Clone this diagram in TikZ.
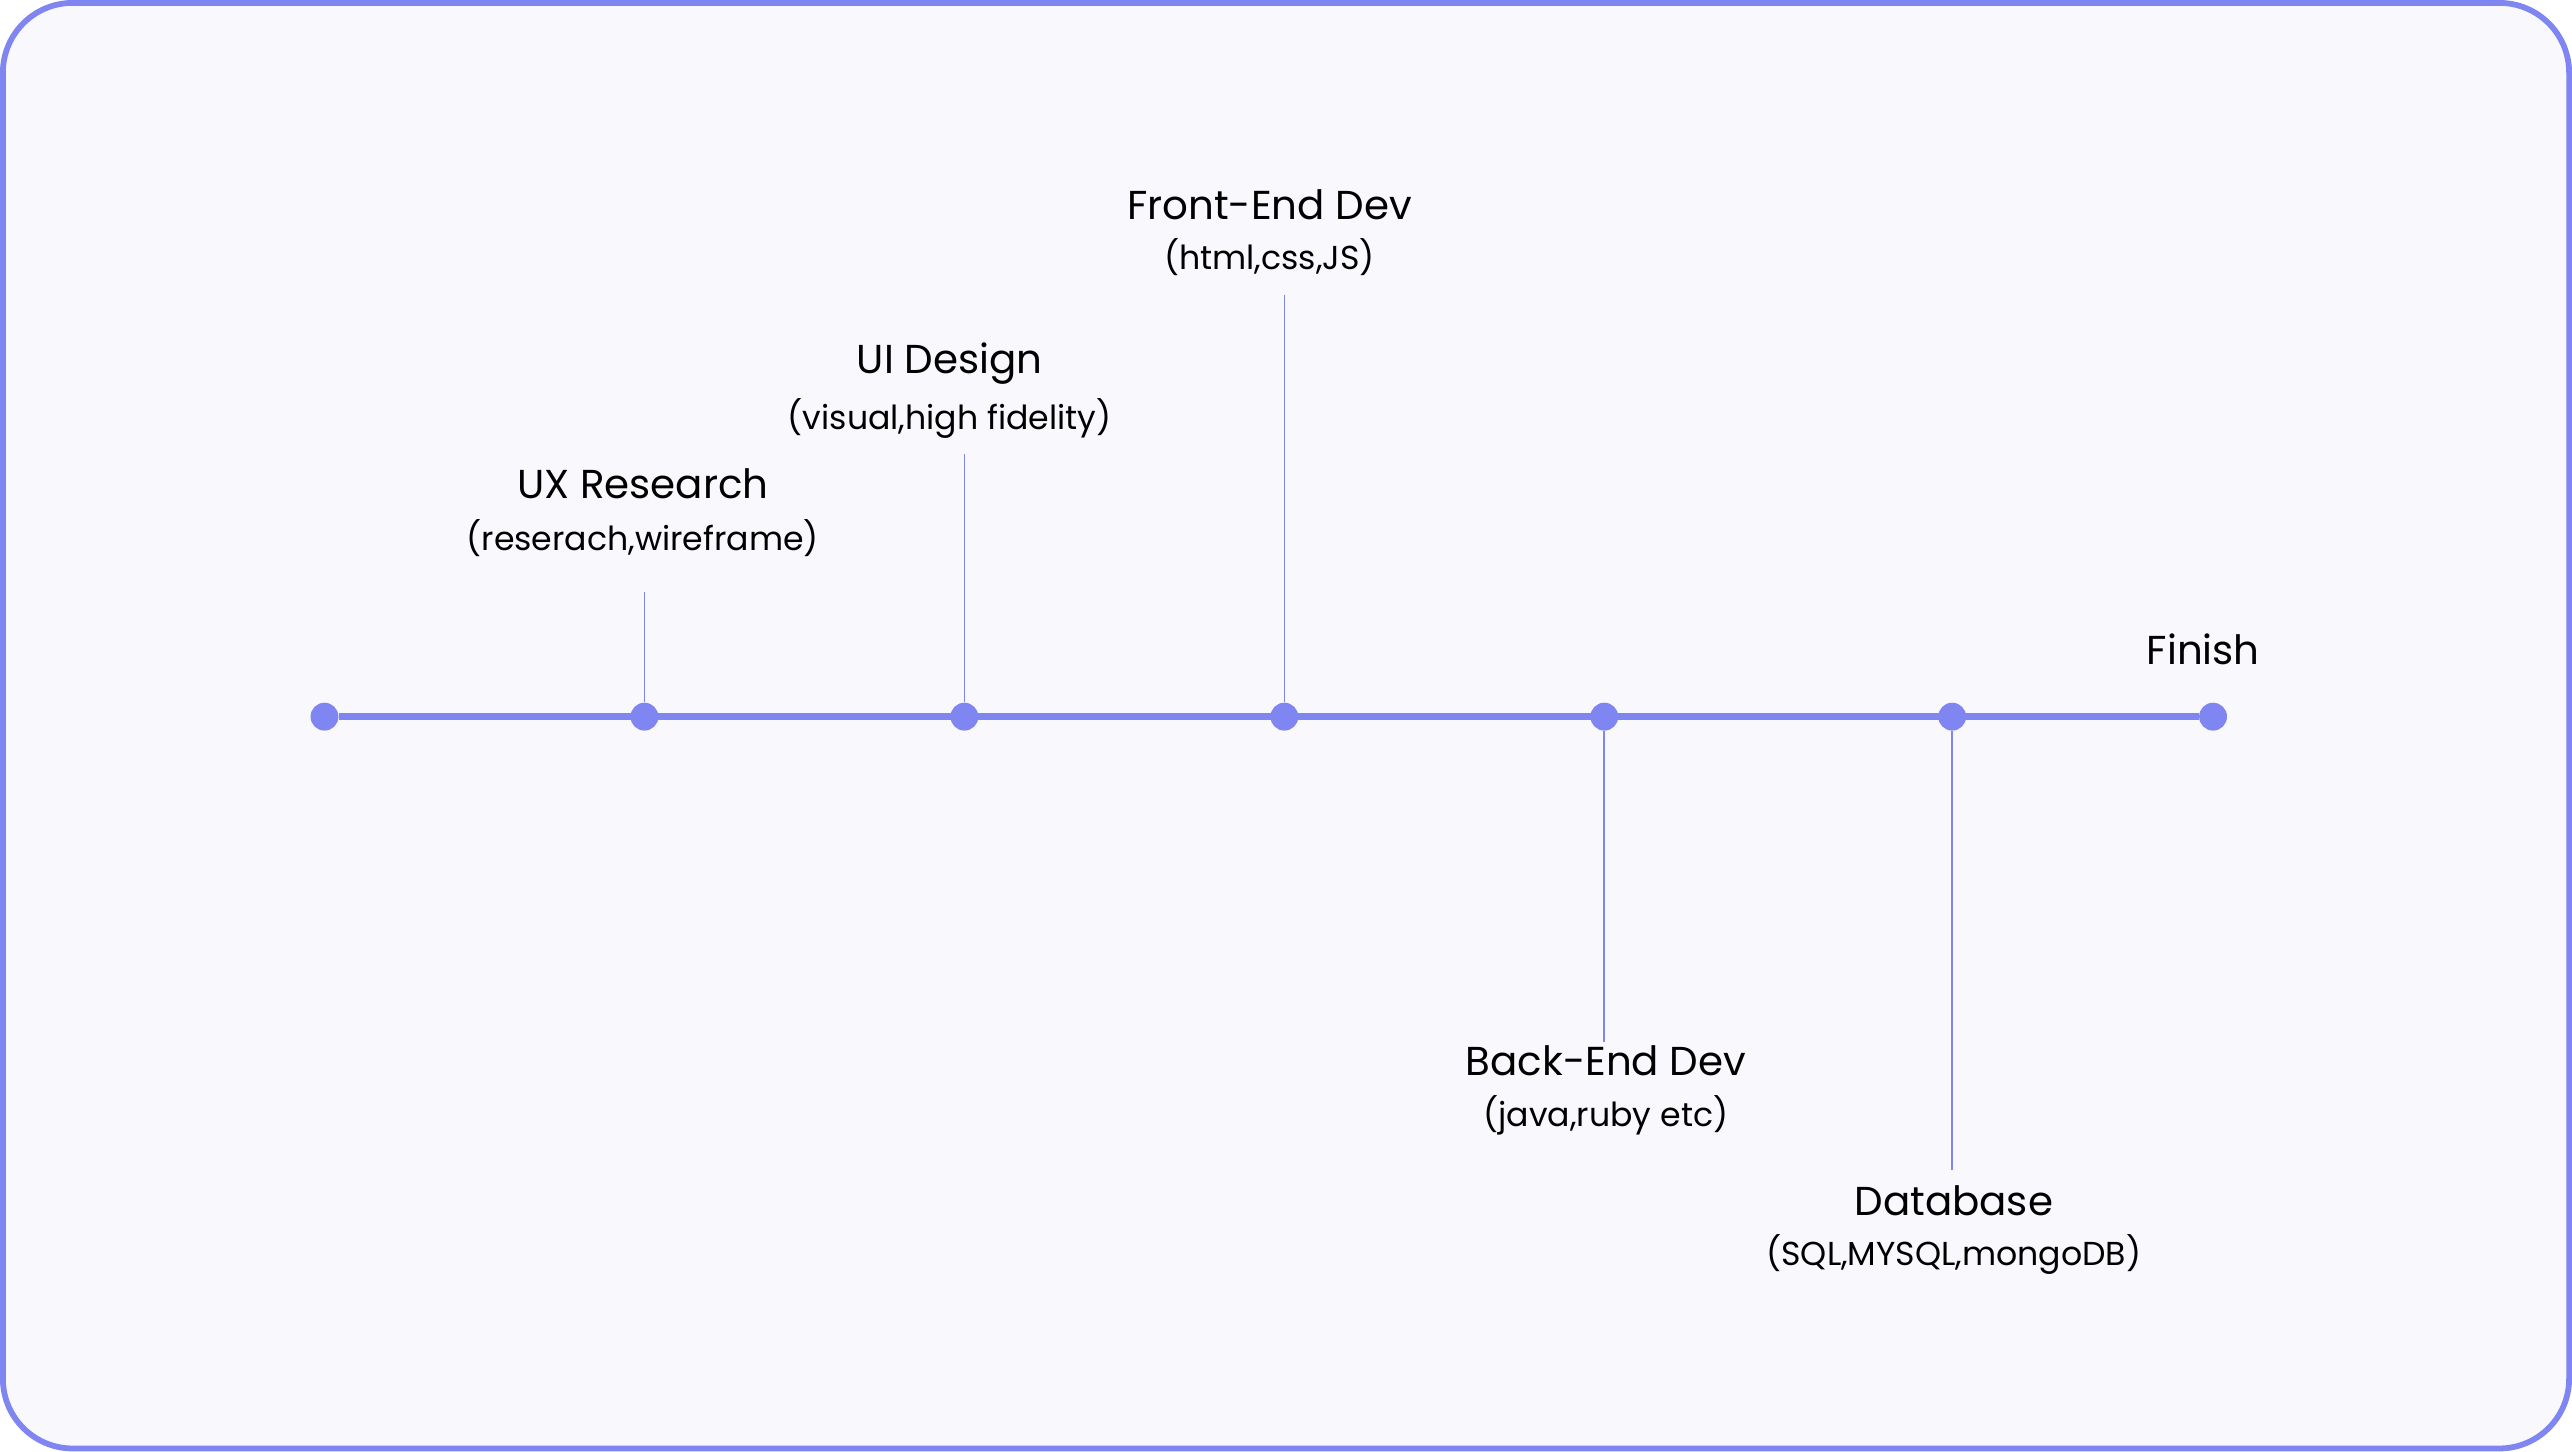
\documentclass[tikz,border=0pt]{standalone}
\usepackage{fontspec}
\setmainfont{Poppins}
\definecolor{lineblue}{HTML}{7F86F2}
\definecolor{bgpale}{HTML}{F8F8FD}
\tikzset{
  dot/.style={circle,fill=lineblue,inner sep=0pt,minimum size=0.34cm},
  title/.style={font=\fontsize{14}{16}\selectfont},
  sub/.style={font=\fontsize{11.5}{13}\selectfont},
  stem/.style={draw=lineblue,line width=0.6pt}
}
\begin{document}
\begin{tikzpicture}[x=0.02cm,y=-0.02cm]
  \draw[lineblue,line width=2pt,fill=bgpale,rounded corners=0.85cm] (2,2) rectangle (1566,883);

  \node (Start) [dot] at (198,437) {};
  \node (UX) [dot] at (393,437) {};
  \node (UI) [dot] at (588,437) {};
  \node (FE) [dot] at (783,437) {};
  \node (BE) [dot] at (978,437) {};
  \node (DB) [dot] at (1190,437) {};
  \node (End) [dot] at (1349,437) {};
  \draw[lineblue,line width=2.2pt] (Start) -- (End);

  \coordinate (UXtop) at (393,361);
  \coordinate (UItop) at (588,277);
  \coordinate (FEtop) at (783,180);
  \coordinate (BEbot) at (978,635);
  \coordinate (DBbot) at (1190,713);
  \draw[stem] (UX) -- (UXtop);
  \draw[stem] (UI) -- (UItop);
  \draw[stem] (FE) -- (FEtop);
  \draw[stem] (BE) -- (BEbot);
  \draw[stem] (DB) -- (DBbot);

  \node (UXt) [title] at (392,295) {UX Research};
  \node (UXs) [sub] at (392,328) {(reserach,wireframe)};
  \node (UIt) [title] at (579,222) {UI Design};
  \node (UIs) [sub] at (579,255) {(visual,high fidelity)};
  \node (FEt) [title] at (774,125) {Front-End Dev};
  \node (FEs) [sub] at (774,157) {(html,css,JS)};
  \node (Fin) [title] at (1343,396) {Finish};
  \node (BEt) [title] at (979,647) {Back-End Dev};
  \node (BEs) [sub] at (979,680) {(java,ruby etc)};
  \node (DBt) [title] at (1191,732) {Database};
  \node (DBs) [sub] at (1191,765) {(SQL,MYSQL,mongoDB)};
\end{tikzpicture}
\end{document}
